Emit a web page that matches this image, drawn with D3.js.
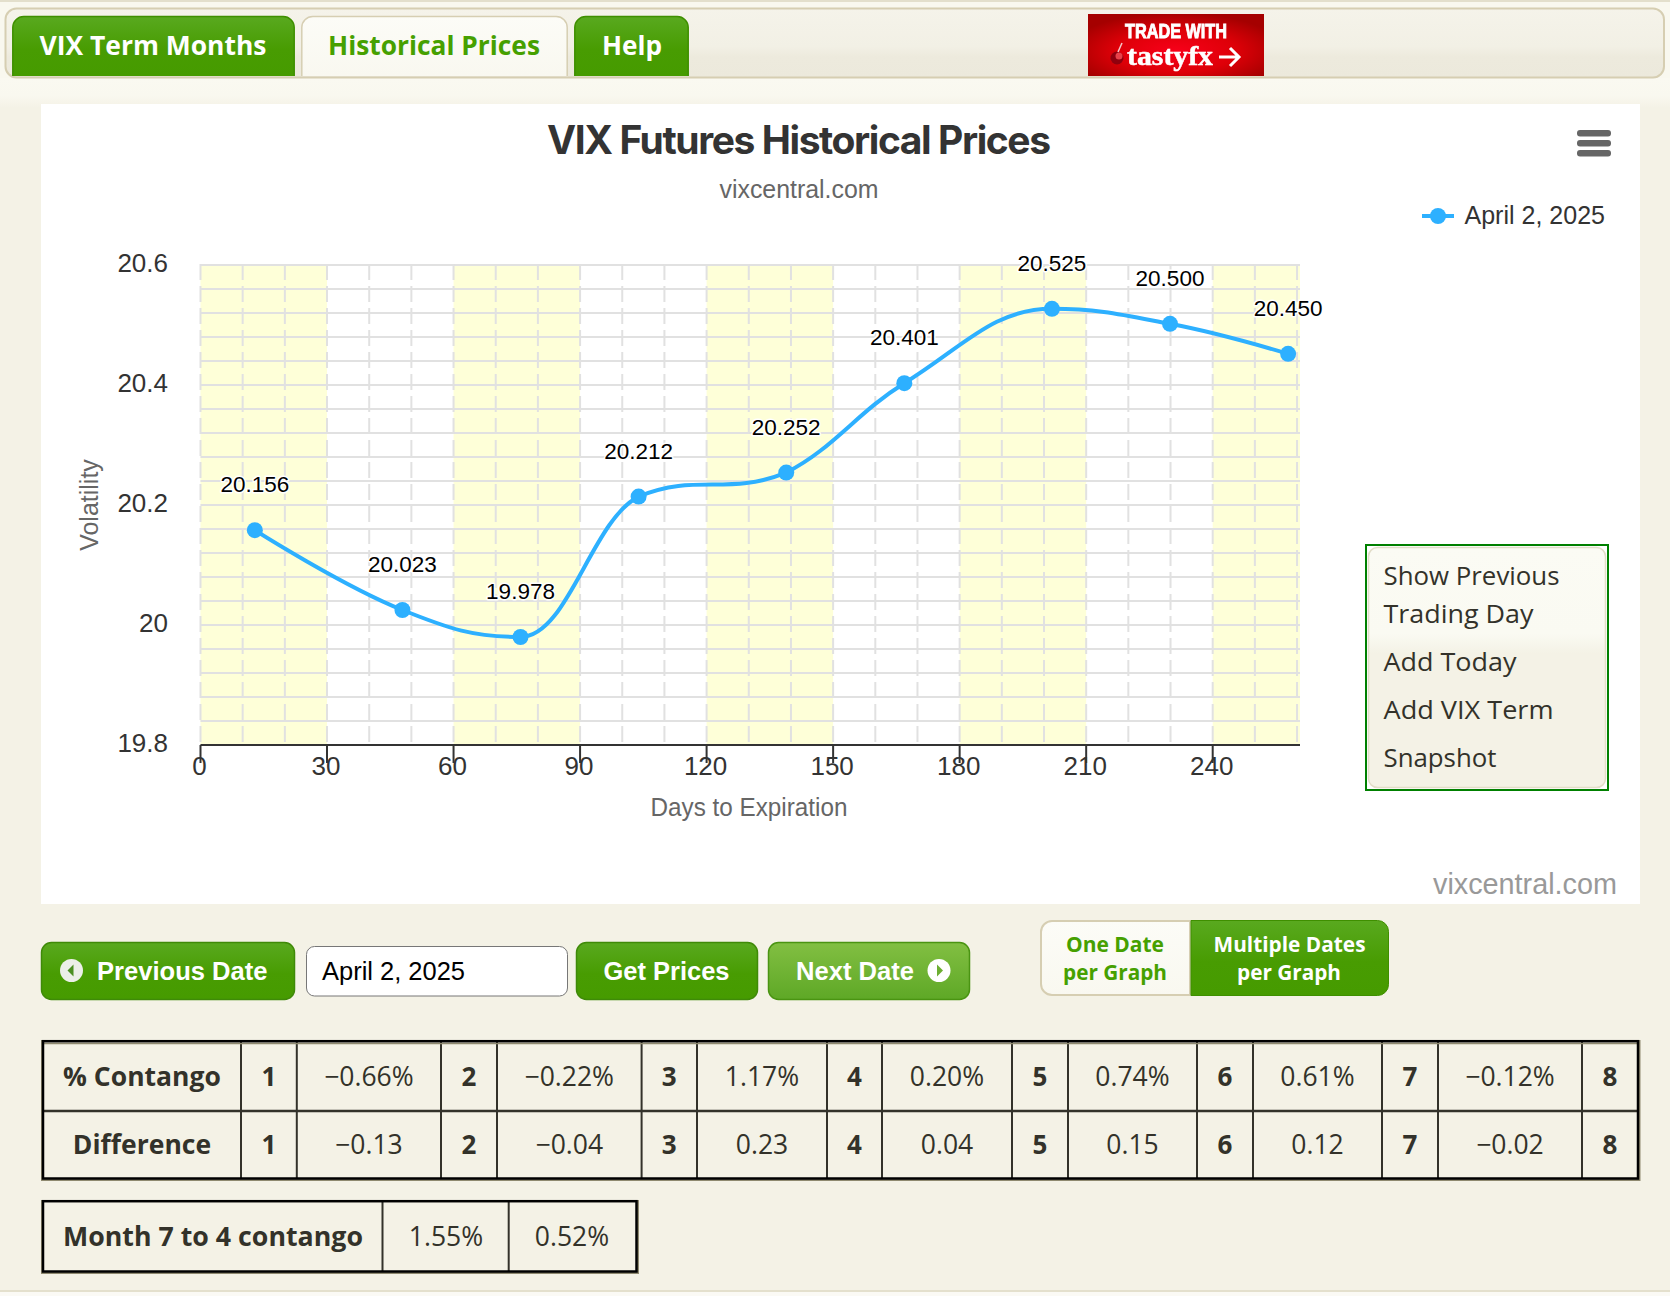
<!DOCTYPE html>
<html>
<head>
<meta charset="utf-8">
<title>VIX Futures Historical Prices</title>
<script src="https://cdn.jsdelivr.net/npm/d3@7/dist/d3.min.js"></script>
<style>
  html, body { margin: 0; padding: 0; background: #f4f2e6; }
  svg { display: block; }
  text { font-family: "Liberation Sans", Arial, sans-serif; }
  .ui { font-family: "Open Sans", sans-serif; }
</style>
</head>
<body>
<div id="page"></div>
<script>
// VIX futures curve for one trading date
const seriesName = "April 2, 2025";
const daysToExpiration = [13, 48, 76, 104, 139, 167, 202, 230, 258];
const settlePrices = [20.156, 20.023, 19.978, 20.212, 20.252, 20.401, 20.525, 20.500, 20.450];

// Axis ticks
const xTicks = [0, 30, 60, 90, 120, 150, 180, 210, 240];
const yTicks = [19.8, 20, 20.2, 20.4, 20.6];
const xGridStep = 10;
const yGridStep = 0.04;

// Month-over-month tables
const contangoMonths = [1, 2, 3, 4, 5, 6, 7, 8];
const contangoPct = [-0.66, -0.22, 1.17, 0.20, 0.74, 0.61, -0.12];
const contangoDiff = [-0.13, -0.04, 0.23, 0.04, 0.15, 0.12, -0.02];
const monthSevenToFour = [1.55, 0.52];

// Navigation labels
const sideMenu = [["Show Previous", 585, 176], ["Trading Day", 623, 150], ["Add Today", 671, 133], ["Add VIX Term", 719, 170], ["Snapshot", 767, 113]];

const W = 1670, H = 1296;
const BLUE = "#2db0ff", GRID = "#e1e1e1", TAN = "#d6ceb2", GREEN_TEXT = "#46a000", INK = "#33322a";

const svg = d3.select("#page").append("svg").attr("width", W).attr("height", H);
const defs = svg.append("defs");

function linear(id, stops) {
  const g = defs.append("linearGradient").attr("id", id).attr("x1", 0).attr("y1", 0).attr("x2", 0).attr("y2", 1);
  stops.forEach(([o, c]) => g.append("stop").attr("offset", o).attr("stop-color", c));
}
linear("btnGreen", [[0, "#59a91f"], [0.55, "#489c02"], [1, "#469b00"]]);
linear("btnLight", [[0, "#82bf42"], [1, "#5ea826"]]);
linear("barTan", [[0, "#f5f3ea"], [0.55, "#f2f0e5"], [0.7, "#edeadd"], [1, "#ece9dc"]]);
linear("bgFade", [[0, "#faf9f1"], [0.6, "#f9f8ef"], [1, "#f4f2e6"]]);
linear("tabWhite", [[0, "#fcfcf7"], [1, "#f9f8f0"]]);
linear("menuFill", [[0, "#fbfbf4"], [0.36, "#fafaf2"], [0.44, "#f4f2e6"], [1, "#f4f2e6"]]);
const adGrad = defs.append("radialGradient").attr("id", "adRed").attr("cx", "50%").attr("cy", "60%").attr("r", "62%");
adGrad.append("stop").attr("offset", 0).attr("stop-color", "#f8001a");
adGrad.append("stop").attr("offset", 0.55).attr("stop-color", "#de0008");
adGrad.append("stop").attr("offset", 1).attr("stop-color", "#a50000");
defs.append("filter").attr("id", "soft").append("feGaussianBlur").attr("stdDeviation", 0.7);

// Text with an exact rendered width, so the substitute face keeps the intended line lengths
function label(parent, str, x, y, o = {}) {
  const t = parent.append("text").attr("x", x).attr("y", y).text(str)
    .attr("font-size", o.size || 26)
    .attr("font-weight", o.weight || 400)
    .attr("fill", o.fill || INK)
    .attr("text-anchor", o.anchor || "start");
  if (o.ui) t.attr("class", "ui");
  if (o.family) t.style("font-family", o.family);
  if (o.width) t.attr("textLength", o.width).attr("lengthAdjust", o.adjust || "spacingAndGlyphs");
  return t;
}
function topRounded(x0, x1, y0, y1, r) {
  const p = d3.path();
  p.moveTo(x0, y1); p.lineTo(x0, y0 + r); p.arcTo(x0, y0, x0 + r, y0, r);
  p.lineTo(x1 - r, y0); p.arcTo(x1, y0, x1, y0 + r, r); p.lineTo(x1, y1);
  return p.toString();
}

/* ---------- page furniture ---------- */
svg.append("rect").attr("width", W).attr("height", H).attr("fill", "#f4f2e6");
svg.append("rect").attr("x", 0).attr("y", 78).attr("width", W).attr("height", 30).attr("fill", "url(#bgFade)");
svg.append("rect").attr("x", 0).attr("y", 0).attr("width", W).attr("height", 78).attr("fill", "#f9f8ef");
svg.append("rect").attr("x", 0).attr("y", 0).attr("width", W).attr("height", 2).attr("fill", "#e3dfcc");
svg.append("rect").attr("x", 5.5).attr("y", 8.5).attr("width", 1658.5).attr("height", 69).attr("rx", 11)
  .attr("fill", "url(#barTan)").attr("stroke", TAN).attr("stroke-width", 2);
svg.append("rect").attr("x", 0).attr("y", 1290).attr("width", W).attr("height", 2).attr("fill", "#e4e0cd");
svg.append("rect").attr("x", 0).attr("y", 1292).attr("width", W).attr("height", 4).attr("fill", "#fbfaf5");

// Tabs
const tabs = svg.append("g");
function tab(x0, x1, str, active, tx, tw) {
  tabs.append("path").attr("d", topRounded(x0 + 0.8, x1 - 0.8, 16.5, 76, 11))
    .attr("fill", active ? "url(#tabWhite)" : "url(#btnGreen)")
    .attr("stroke", active ? TAN : "#3f8f00").attr("stroke-width", 1.5);
  label(tabs, str, tx, 55, { size: 27, weight: 700, ui: true, fill: active ? GREEN_TEXT : "#fff", width: tw });
}
tab(12, 295, "VIX Term Months", false, 39.5, 227);
tab(301, 568, "Historical Prices", true, 328, 212);
tab(574, 689, "Help", false, 602, 60);

// Sponsor banner
const ad = svg.append("g");
ad.append("rect").attr("x", 1088).attr("y", 14).attr("width", 176).attr("height", 62).attr("fill", "url(#adRed)");
const adText = ad.append("g").attr("filter", "url(#soft)");
label(adText, "TRADE WITH", 1125, 38, { size: 20, weight: 700, fill: "#fff", width: 102, family: "'Liberation Sans Narrow','Liberation Sans',sans-serif" })
  .attr("stroke", "#fff").attr("stroke-width", 0.9);
label(adText, "tastyfx", 1127, 65, { size: 28, weight: 700, fill: "#fff", width: 86, family: "'Liberation Serif',serif" })
  .attr("stroke", "#fff").attr("stroke-width", 0.5);
adText.append("path").attr("d", "M1219,57H1238M1230,48L1239,57L1230,66").attr("fill", "none")
  .attr("stroke", "#fff").attr("stroke-width", 3);
adText.append("circle").attr("cx", 1117).attr("cy", 58).attr("r", 6.5).attr("fill", "#8f0010");
adText.append("circle").attr("cx", 1119).attr("cy", 56).attr("r", 3.5).attr("fill", "#e8424a");
adText.append("line").attr("x1", 1118).attr("y1", 52).attr("x2", 1122).attr("y2", 43).attr("stroke", "#f4c8c8").attr("stroke-width", 1.5);

/* ---------- chart panel ---------- */
svg.append("rect").attr("x", 41).attr("y", 104).attr("width", 1599).attr("height", 800).attr("fill", "#fff");

const margin = { left: 200.5, right: 1300, top: 265, bottom: 745 };
const x = d3.scaleLinear().domain([0, 260.7]).range([margin.left, margin.right]);
const y = d3.scaleLinear().domain([19.8, 20.6]).range([margin.bottom, margin.top]);

const chart = svg.append("g");

// Alternating month bands behind the grid
const bandStarts = xTicks.filter((d, i) => i % 2 === 0);
chart.append("g").selectAll("rect").data(bandStarts).join("rect")
  .attr("x", d => x(d))
  .attr("y", margin.top)
  .attr("width", d => x(Math.min(d + 30, x.domain()[1])) - x(d))
  .attr("height", margin.bottom - margin.top)
  .attr("fill", "#feffd8");

// Horizontal grid, solid
const hGrid = d3.range(0, 21).map(i => 19.8 + i * yGridStep);
chart.append("g").selectAll("line").data(hGrid).join("line")
  .attr("x1", margin.left).attr("x2", margin.right)
  .attr("y1", d => y(d)).attr("y2", d => y(d))
  .attr("stroke", GRID).attr("stroke-width", 2);

// Vertical grid, dashed
const vGrid = d3.range(0, x.domain()[1], xGridStep);
chart.append("g").selectAll("line").data(vGrid).join("line")
  .attr("x1", d => x(d)).attr("x2", d => x(d))
  .attr("y1", margin.top - 1).attr("y2", margin.bottom)
  .attr("stroke", GRID).attr("stroke-width", 2).attr("stroke-dasharray", "16 6");

// Axes
const xAxis = d3.axisBottom(x).tickValues(xTicks).tickSize(18).offset(0).tickFormat(d3.format("d"));
const xG = chart.append("g").attr("transform", `translate(0,${margin.bottom})`).call(xAxis);
xG.select(".domain").attr("stroke", "#333").attr("stroke-width", 2).attr("d", `M${margin.left},0H${margin.right}`);
xG.selectAll(".tick line").attr("stroke", "#333").attr("stroke-width", 2);
xG.selectAll(".tick text").attr("x", -1).attr("y", 30).attr("dy", 0).attr("fill", "#333")
  .attr("font-size", 26).style("font-family", "'Liberation Sans',Arial,sans-serif");

const yAxis = d3.axisLeft(y).tickValues(yTicks).tickSize(0).offset(0).tickFormat(d3.format("~g"));
const yG = chart.append("g").attr("transform", `translate(${margin.left},0)`).call(yAxis);
yG.select(".domain").remove();
yG.selectAll(".tick text").attr("x", -32.5).attr("dy", 7).attr("fill", "#333")
  .attr("font-size", 26).style("font-family", "'Liberation Sans',Arial,sans-serif");

// Spline with vertically corrected control points, as a d3 curve factory
function smoothSpline(context) {
  let pts;
  const smoothing = 1.5, denom = smoothing + 1;
  return {
    lineStart() { pts = []; },
    point(px, py) { pts.push([+px, +py]); },
    lineEnd() {
      let prevRight = pts[0];
      context.moveTo(pts[0][0], pts[0][1]);
      pts.forEach((p, i) => {
        if (i === 0) return;
        const last = pts[i - 1], next = pts[i + 1];
        let left = p, right = p;
        if (next) {
          const lx = (smoothing * p[0] + last[0]) / denom, rx = (smoothing * p[0] + next[0]) / denom;
          let ly = (smoothing * p[1] + last[1]) / denom, ry = (smoothing * p[1] + next[1]) / denom;
          const correction = ((ry - ly) * (rx - p[0])) / (rx - lx) + p[1] - ry;
          ly += correction; ry += correction;
          if (ly > last[1] && ly > p[1]) { ly = Math.max(last[1], p[1]); ry = 2 * p[1] - ly; }
          else if (ly < last[1] && ly < p[1]) { ly = Math.min(last[1], p[1]); ry = 2 * p[1] - ly; }
          if (ry > next[1] && ry > p[1]) { ry = Math.max(next[1], p[1]); ly = 2 * p[1] - ry; }
          else if (ry < next[1] && ry < p[1]) { ry = Math.min(next[1], p[1]); ly = 2 * p[1] - ry; }
          left = [lx, ly]; right = [rx, ry];
        }
        context.bezierCurveTo(prevRight[0], prevRight[1], left[0], left[1], p[0], p[1]);
        prevRight = right;
      });
    }
  };
}

const points = daysToExpiration.map((d, i) => ({ d, v: settlePrices[i] }));
const line = d3.line().x(p => x(p.d)).y(p => y(p.v)).curve(smoothSpline);
const seriesG = chart.append("g").attr("transform", "translate(-0.5,-1.2)");
seriesG.append("path").datum(points).attr("d", line)
  .attr("fill", "none").attr("stroke", BLUE).attr("stroke-width", 4).attr("stroke-linejoin", "round");
seriesG.append("g").selectAll("circle").data(points).join("circle")
  .attr("cx", p => x(p.d)).attr("cy", p => y(p.v)).attr("r", 8).attr("fill", BLUE);

// Point labels, outlined so they stay legible over the grid
seriesG.append("g").selectAll("text").data(points).join("text")
  .attr("x", p => x(p.d)).attr("y", p => y(p.v) - 38)
  .attr("text-anchor", "middle").attr("font-size", 22.5).attr("fill", "#000")
  .attr("stroke", "#fff").attr("stroke-width", 3).attr("paint-order", "stroke").attr("stroke-linejoin", "round")
  .text(p => d3.format(".3f")(p.v));

// Titles
label(svg, "VIX Futures Historical Prices", 799, 154, { size: 39, weight: 700, fill: "#333", anchor: "middle", width: 504, adjust: "spacing", family: "Inter,sans-serif" });
label(svg, "vixcentral.com", 799, 198, { size: 25, fill: "#666", anchor: "middle", width: 159 });
label(svg, "Days to Expiration", 749, 816, { size: 25, fill: "#666", anchor: "middle", width: 197 });
svg.append("text").attr("transform", "translate(98,505) rotate(-90)").attr("text-anchor", "middle")
  .attr("font-size", 25).attr("fill", "#666").text("Volatility");
label(svg, "vixcentral.com", 1433, 894, { size: 29, fill: "#999", width: 184 });

// Export menu glyph
svg.append("g").selectAll("rect").data([130, 140, 150]).join("rect")
  .attr("x", 1577).attr("y", d => d).attr("width", 34).attr("height", 6.5).attr("rx", 3).attr("fill", "#666");

// Legend
svg.append("line").attr("x1", 1422).attr("x2", 1454).attr("y1", 216).attr("y2", 216).attr("stroke", BLUE).attr("stroke-width", 4);
svg.append("circle").attr("cx", 1438).attr("cy", 216).attr("r", 8).attr("fill", BLUE);
label(svg, seriesName, 1464.5, 224, { size: 25, fill: "#333", width: 140.5 });

// Side menu
svg.append("rect").attr("x", 1366).attr("y", 545).attr("width", 242).attr("height", 245)
  .attr("fill", "#fff").attr("stroke", "#008000").attr("stroke-width", 2);
svg.append("rect").attr("x", 1368.5).attr("y", 547.5).attr("width", 237).attr("height", 240).attr("rx", 9)
  .attr("fill", "url(#menuFill)").attr("stroke", "#e2ddc8").attr("stroke-width", 1.5);
sideMenu.forEach(([s, by, w]) => label(svg, s, 1383.5, by, { size: 26, ui: true, width: w }));

/* ---------- controls ---------- */
function button(x0, x1, y0, y1, fill, stroke) {
  svg.append("rect").attr("x", x0 + .5).attr("y", y0 + .5).attr("width", x1 - x0 - 1).attr("height", y1 - y0 - 1).attr("rx", 10)
    .attr("fill", fill).attr("stroke", stroke).attr("stroke-width", 1.5);
}
function roundIcon(cx, cy, dir, tint, arrow) {
  const g = svg.append("g").attr("filter", "url(#soft)");
  g.append("circle").attr("cx", cx).attr("cy", cy).attr("r", 11.5).attr("fill", tint);
  g.append("path").attr("fill", arrow)
    .attr("d", dir < 0 ? `M${cx - 4},${cy}L${cx + 2},${cy - 6}V${cy + 6}Z` : `M${cx + 4},${cy}L${cx - 2},${cy - 6}V${cy + 6}Z`);
}
button(41, 295, 942, 1000, "url(#btnGreen)", "#3f8a08");
roundIcon(71.5, 970.5, -1, "#ecefe8", "#4b8f20");
label(svg, "Previous Date", 97, 980, { size: 26, weight: 700, fill: "#fff", width: 170.5 });

svg.append("rect").attr("x", 306.5).attr("y", 946.5).attr("width", 261).attr("height", 49.5).attr("rx", 8)
  .attr("fill", "#fff").attr("stroke", "#777").attr("stroke-width", 1);
label(svg, seriesName, 322, 980, { size: 26, fill: "#000", width: 143 });

button(576, 758, 942, 1000, "url(#btnGreen)", "#3f8a08");
label(svg, "Get Prices", 603.5, 980, { size: 26, weight: 700, fill: "#fff", width: 126 });

button(768, 970, 942, 1000, "url(#btnLight)", "#4a9412");
label(svg, "Next Date", 796, 980, { size: 26, weight: 700, fill: "#fff", width: 118 });
roundIcon(939, 970.5, 1, "#ffffff", "#6cae30");

// Graph mode toggle
const leftPill = d3.path();
leftPill.moveTo(1190, 921); leftPill.lineTo(1052, 921); leftPill.arcTo(1041, 921, 1041, 932, 11);
leftPill.lineTo(1041, 984); leftPill.arcTo(1041, 995, 1052, 995, 11); leftPill.lineTo(1190, 995); leftPill.closePath();
svg.append("path").attr("d", leftPill.toString()).attr("fill", "url(#tabWhite)").attr("stroke", TAN).attr("stroke-width", 2);
const rightPill = d3.path();
rightPill.moveTo(1191, 920.5); rightPill.lineTo(1377.5, 920.5); rightPill.arcTo(1388.5, 920.5, 1388.5, 931.5, 11);
rightPill.lineTo(1388.5, 984.5); rightPill.arcTo(1388.5, 995.5, 1377.5, 995.5, 11); rightPill.lineTo(1191, 995.5); rightPill.closePath();
svg.append("path").attr("d", rightPill.toString()).attr("fill", "url(#btnGreen)").attr("stroke", "#3f8f00").attr("stroke-width", 1);
label(svg, "One Date", 1115, 952, { size: 22, weight: 700, ui: true, fill: GREEN_TEXT, anchor: "middle", width: 98 });
label(svg, "per Graph", 1115, 980, { size: 22, weight: 700, ui: true, fill: GREEN_TEXT, anchor: "middle", width: 104 });
label(svg, "Multiple Dates", 1289.5, 952, { size: 22, weight: 700, ui: true, fill: "#fff", anchor: "middle", width: 152 });
label(svg, "per Graph", 1289, 980, { size: 22, weight: 700, ui: true, fill: "#fff", anchor: "middle", width: 104 });

/* ---------- contango tables ---------- */
const pct = v => d3.format(".2f")(v) + "%";
const num = v => d3.format(".2f")(v);
const monthEdges = [296.8, 441, 497, 641.6, 697, 827, 882, 1012, 1068, 1197, 1253, 1382, 1438, 1582, 1638];

// Bevelled frame: black rule with a tan edge on the left, right and bottom
function tableFrame(x0, x1, y0, y1, dividers, rowLines, topInset) {
  const g = svg.append("g");
  g.selectAll(".v").data(dividers).join("line").attr("class", "v")
    .attr("x1", d => d).attr("x2", d => d).attr("y1", y0 + 2).attr("y2", y1 - 3)
    .attr("stroke", "#33322a").attr("stroke-width", 2);
  g.selectAll(".h").data(rowLines).join("line").attr("class", "h")
    .attr("x1", x0 + 2).attr("x2", x1 - 2).attr("y1", d => d).attr("y2", d => d)
    .attr("stroke", "#33322a").attr("stroke-width", 2.5);
  g.append("path").attr("fill", "none").attr("stroke", "#8f8a70").attr("stroke-width", 2)
    .attr("d", `M${x0 + 1},${y0}V${y1 - 1}H${x1 - 1}V${y0}`);
  if (topInset) {
    g.append("line").attr("x1", x0 + 2).attr("x2", x1 - 2).attr("y1", y0 + 3.5).attr("y2", y0 + 3.5)
      .attr("stroke", "#8f8a70").attr("stroke-width", 1.5);
  }
  g.append("rect").attr("x", x0 + 2).attr("y", y0 + 1.2).attr("width", x1 - x0 - 4.5).attr("height", y1 - y0 - 3.7)
    .attr("fill", "none").attr("stroke", "#000").attr("stroke-width", 2.5);
}
tableFrame(41, 1640.5, 1040, 1181, [241].concat(monthEdges.slice(0, -1)), [1111], true);

const rows = [["% Contango", contangoPct, pct, 1086], ["Difference", contangoDiff, num, 1154]];
rows.forEach(([head, vals, fmt, by]) => {
  label(svg, head, 142, by, { size: 26.5, weight: 700, ui: true, anchor: "middle" });
  const g = svg.append("g");
  contangoMonths.forEach((m, i) => {
    const a = i === 0 ? 241 : monthEdges[2 * i - 1];
    const b = monthEdges[2 * i];
    label(g, m, (a + b) / 2, by, { size: 26, weight: 700, ui: true, anchor: "middle" });
    if (i < vals.length) {
      label(g, fmt(vals[i]), (b + monthEdges[2 * i + 1]) / 2, by, { size: 26.5, ui: true, anchor: "middle" });
    }
  });
});

tableFrame(41, 639, 1200, 1274, [382.5, 508.7], [], false);
label(svg, "Month 7 to 4 contango", 63, 1246, { size: 26, weight: 700, ui: true, width: 300 });
monthSevenToFour.forEach((v, i) => label(svg, pct(v), [446, 572][i], 1246, { size: 26.5, ui: true, anchor: "middle" }));
</script>
</body>
</html>
